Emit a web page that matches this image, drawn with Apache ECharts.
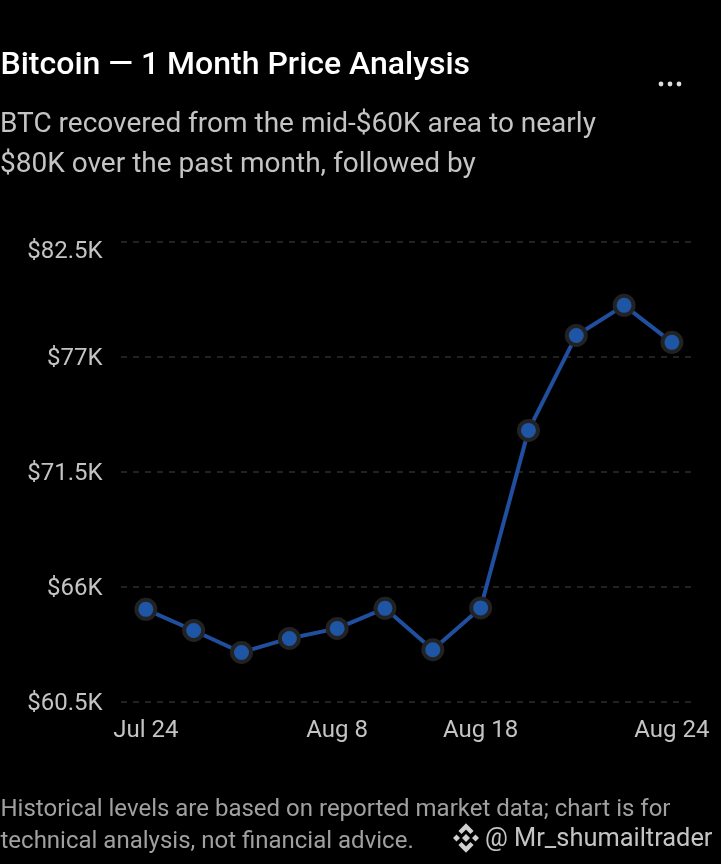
<!DOCTYPE html>
<html><head><meta charset="utf-8">
<style>html,body{margin:0;padding:0;background:#000}#c{width:721px;height:864px}</style>
<script src="https://cdn.jsdelivr.net/npm/echarts@6/dist/echarts.min.js"></script></head>
<body><div id="c"></div>
<script>
const dateLabels = ['Jul 24','','','','Aug 8','','','Aug 18','','','','Aug 24'];
const prices = [64.93,63.92,62.87,63.54,64.02,64.98,63.0,65.0,73.49,78.03,79.47,77.7];
const yTicks = {min:60.5,max:82.5,step:5.5};
const titleText = 'Bitcoin — 1 Month Price Analysis';
const subText = 'BTC recovered from the mid-$60K area to nearly\n$80K over the past month, followed by';
const footText = 'Historical levels are based on reported market data; chart is for\ntechnical analysis, not financial advice.';
const brand = '@ Mr_shumailtrader';
const F = 'Roboto';
const chart = echarts.init(document.getElementById('c'));
const seriesData = prices.map((v,i)=>[i,v]);
const tickIdx = dateLabels.map((s,i)=>s?i:-1).filter(i=>i>=0);
chart.setOption({
  backgroundColor:'#000',
  animation:false,
  textStyle:{fontFamily:F},
  title:[
    {text:titleText,left:0.5,top:49,padding:0,textStyle:{fontFamily:F,fontSize:32,fontWeight:500,color:'#fff',lineHeight:34}},
    {text:subText,left:0,top:105,padding:0,textStyle:{fontFamily:F,fontSize:28,fontWeight:400,color:'#c4c4c4',lineHeight:40}},
    {text:footText,left:0.5,top:794,padding:0,textStyle:{fontFamily:F,fontSize:24,fontWeight:400,color:'#a0a0a0',lineHeight:32}}
  ],
  grid:{left:121,right:29,top:242,bottom:162,containLabel:false},
  xAxis:{type:'value',min:-0.52,max:11.42,
    splitLine:{show:false},axisLine:{show:false},axisTick:{show:false},
    axisLabel:{customValues:tickIdx,formatter:v=>dateLabels[v]||'',color:'#c4c4c4',fontFamily:F,fontSize:24,margin:17}},
  yAxis:{type:'value',min:yTicks.min,max:yTicks.max,interval:yTicks.step,
    axisLine:{show:false},axisTick:{show:false},
    splitLine:{lineStyle:{color:'#2e2e2e',type:[6,6],width:1.5}},
    axisLabel:{formatter:v=>(v===yTicks.max?'{b|':'{a|')+'$'+v+'K}',color:'#c4c4c4',fontFamily:F,fontSize:24,margin:18.5,
      rich:{a:{fontFamily:F,fontSize:24,color:'#c4c4c4',padding:[4,0,0,0]},b:{fontFamily:F,fontSize:24,color:'#c4c4c4',padding:[20,0,0,0]}}}},
  series:[{type:'line',data:seriesData,symbol:'circle',symbolSize:19,
    lineStyle:{color:'#1f4f9e',width:4},
    itemStyle:{color:'#1f55a5',borderColor:'#222222',borderWidth:4}}],
  graphic:[
    {type:'circle',shape:{cx:661,cy:84,r:2.4},style:{fill:'#ddd'}},
    {type:'circle',shape:{cx:670,cy:84,r:2.4},style:{fill:'#ddd'}},
    {type:'circle',shape:{cx:679,cy:84,r:2.4},style:{fill:'#ddd'}},
    {type:'polyline',shape:{points:[[460,832.5],[466,826.5],[472,832.5]]},style:{stroke:'#d0d0d0',lineWidth:4.5,fill:null}},
    {type:'polyline',shape:{points:[[460,843.5],[466,849.5],[472,843.5]]},style:{stroke:'#d0d0d0',lineWidth:4.5,fill:null}},
    {type:'polygon',shape:{points:[[466,834],[470,838],[466,842],[462,838]]},style:{fill:'#d0d0d0'}},
    {type:'polygon',shape:{points:[[456.5,834.5],[460,838],[456.5,841.5],[453,838]]},style:{fill:'#d0d0d0'}},
    {type:'polygon',shape:{points:[[475.5,834.5],[479,838],[475.5,841.5],[472,838]]},style:{fill:'#d0d0d0'}},
    {type:'text',style:{text:brand,x:485,y:840,verticalAlign:'middle',fontFamily:F,fontSize:25.4,fill:'#c4c4c4'}}
  ]
});
</script></body></html>
